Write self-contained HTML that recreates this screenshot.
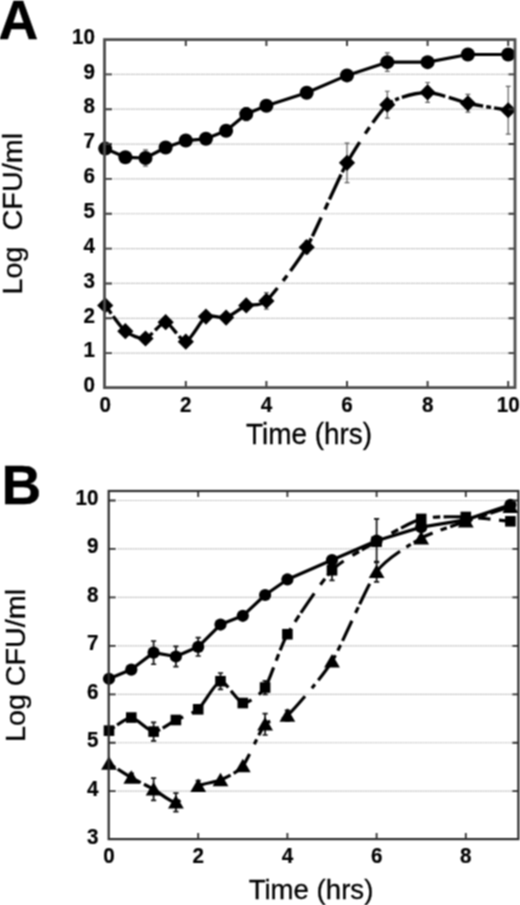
<!DOCTYPE html>
<html><head><meta charset="utf-8"><title>Figure</title>
<style>html,body{margin:0;padding:0;background:#fff}body{width:520px;height:905px;overflow:hidden}</style></head>
<body>
<svg width="520" height="905" viewBox="0 0 520 905" style="display:block">
<rect width="520" height="905" fill="#fff"/>
<g id="fig" filter="url(#bl)">
<line x1="113.50" y1="353.15" x2="514.00" y2="353.15" stroke="#b4b4b4" stroke-width="1.2" stroke-dasharray="1.6 0.9"/>
<line x1="113.50" y1="318.30" x2="514.00" y2="318.30" stroke="#b4b4b4" stroke-width="1.2" stroke-dasharray="1.6 0.9"/>
<line x1="113.50" y1="283.45" x2="514.00" y2="283.45" stroke="#b4b4b4" stroke-width="1.2" stroke-dasharray="1.6 0.9"/>
<line x1="113.50" y1="248.60" x2="514.00" y2="248.60" stroke="#b4b4b4" stroke-width="1.2" stroke-dasharray="1.6 0.9"/>
<line x1="113.50" y1="213.75" x2="514.00" y2="213.75" stroke="#b4b4b4" stroke-width="1.2" stroke-dasharray="1.6 0.9"/>
<line x1="113.50" y1="178.90" x2="514.00" y2="178.90" stroke="#b4b4b4" stroke-width="1.2" stroke-dasharray="1.6 0.9"/>
<line x1="113.50" y1="144.05" x2="514.00" y2="144.05" stroke="#b4b4b4" stroke-width="1.2" stroke-dasharray="1.6 0.9"/>
<line x1="113.50" y1="109.20" x2="514.00" y2="109.20" stroke="#b4b4b4" stroke-width="1.2" stroke-dasharray="1.6 0.9"/>
<line x1="113.50" y1="74.35" x2="514.00" y2="74.35" stroke="#b4b4b4" stroke-width="1.2" stroke-dasharray="1.6 0.9"/>
<path d="M105.20 148.58 L125.35 157.29 L145.50 157.99 L165.65 147.53 L185.80 140.56 L205.95 138.82 L226.10 130.81 L246.25 114.08 L266.40 105.71 L306.70 92.82 L347.00 75.40 L387.30 62.15 L427.60 62.15 L467.90 54.49 L508.20 54.49" fill="none" stroke="#000" stroke-width="3.20" stroke-linejoin="round"/>
<g fill="none" stroke="#000" stroke-width="3.40">
<path d="M105.20 305.41 C107.44 308.27 120.87 327.52 125.35 331.19" stroke-dasharray="10.50 3.00 24.26 0.00"/>
<path d="M125.35 331.19 C129.83 334.87 141.02 339.52 145.50 338.51"/>
<path d="M145.50 338.51 C149.98 337.51 161.17 321.79 165.65 322.13" stroke-dasharray="9.25 3.50 18.56 0.00"/>
<path d="M165.65 322.13 C170.13 322.48 181.32 342.27 185.80 341.65" stroke-dasharray="15.80 3.50 14.25 0.00"/>
<path d="M185.80 341.65 C190.28 341.03 201.47 319.23 205.95 316.56"/>
<path d="M205.95 316.56 C210.43 313.89 221.62 318.84 226.10 317.60"/>
<path d="M226.10 317.60 C230.58 316.36 241.77 307.26 246.25 305.41"/>
<path d="M246.25 305.41 C250.73 303.55 259.68 307.34 266.40 300.88"/>
<path d="M266.40 300.88 C273.12 294.41 297.74 262.54 306.70 247.21" stroke-dasharray="17.10 9.00 6.65 5.50 33.95 0.00"/>
<path d="M306.70 247.21 C315.66 231.87 338.04 178.71 347.00 162.87" stroke-dasharray="10.15 2.50 20.35 9.00 7.25 3.50 27.49 2.50 15.75 0.00"/>
<path d="M347.00 162.87 C355.96 147.03 378.34 112.49 387.30 104.67" stroke-dasharray="24.50 10.00 7.65 5.50 28.29 0.00"/>
<path d="M387.30 104.67 C396.26 96.85 418.64 92.63 427.60 92.47" stroke-dasharray="6.75 2.50 4.25 3.00 31.17 0.00"/>
<path d="M427.60 92.47 C436.56 92.32 458.94 101.30 467.90 103.28" stroke-dasharray="18.25 3.50 25.07 0.00"/>
<path d="M467.90 103.28 C476.86 105.25 503.72 109.47 508.20 110.25" stroke-dasharray="15.70 3.00 4.80 3.00 19.40 0.00"/>
</g>
<path d="M145.50 149.78 V166.20 M143.10 149.78 H147.90 M143.10 166.20 H147.90" stroke="#5a5a5a" stroke-width="1.20" fill="none"/>
<path d="M246.25 107.61 V120.55 M243.85 107.61 H248.65 M243.85 120.55 H248.65" stroke="#5a5a5a" stroke-width="1.20" fill="none"/>
<path d="M387.30 52.89 V71.41 M384.90 52.89 H389.70 M384.90 71.41 H389.70" stroke="#5a5a5a" stroke-width="1.20" fill="none"/>
<path d="M467.90 48.71 V60.26 M465.50 48.71 H470.30 M465.50 60.26 H470.30" stroke="#5a5a5a" stroke-width="1.20" fill="none"/>
<path d="M266.40 292.66 V309.09 M264.00 292.66 H268.80 M264.00 309.09 H268.80" stroke="#5a5a5a" stroke-width="1.20" fill="none"/>
<path d="M306.70 240.74 V253.68 M304.30 240.74 H309.10 M304.30 253.68 H309.10" stroke="#5a5a5a" stroke-width="1.20" fill="none"/>
<path d="M347.00 143.16 V182.58 M344.60 143.16 H349.40 M344.60 182.58 H349.40" stroke="#5a5a5a" stroke-width="1.20" fill="none"/>
<path d="M387.30 91.23 V118.11 M384.90 91.23 H389.70 M384.90 118.11 H389.70" stroke="#5a5a5a" stroke-width="1.20" fill="none"/>
<path d="M427.60 82.52 V102.43 M425.20 82.52 H430.00 M425.20 102.43 H430.00" stroke="#5a5a5a" stroke-width="1.20" fill="none"/>
<path d="M467.90 94.37 V112.19 M465.50 94.37 H470.30 M465.50 112.19 H470.30" stroke="#5a5a5a" stroke-width="1.20" fill="none"/>
<path d="M508.20 86.35 V134.14 M505.80 86.35 H510.60 M505.80 134.14 H510.60" stroke="#5a5a5a" stroke-width="1.20" fill="none"/>
<g fill="#000">
<circle cx="105.20" cy="148.58" r="7.00"/>
<circle cx="125.35" cy="157.29" r="7.00"/>
<circle cx="145.50" cy="157.99" r="7.00"/>
<circle cx="165.65" cy="147.53" r="7.00"/>
<circle cx="185.80" cy="140.56" r="7.00"/>
<circle cx="205.95" cy="138.82" r="7.00"/>
<circle cx="226.10" cy="130.81" r="7.00"/>
<circle cx="246.25" cy="114.08" r="7.00"/>
<circle cx="266.40" cy="105.71" r="7.00"/>
<circle cx="306.70" cy="92.82" r="7.00"/>
<circle cx="347.00" cy="75.40" r="7.00"/>
<circle cx="387.30" cy="62.15" r="7.00"/>
<circle cx="427.60" cy="62.15" r="7.00"/>
<circle cx="467.90" cy="54.49" r="7.00"/>
<circle cx="508.20" cy="54.49" r="7.00"/>
</g>
<g fill="#000">
<path d="M105.20 297.31 L113.30 305.41 L105.20 313.51 L97.10 305.41 Z"/>
<path d="M125.35 323.09 L133.45 331.19 L125.35 339.29 L117.25 331.19 Z"/>
<path d="M145.50 330.41 L153.60 338.51 L145.50 346.61 L137.40 338.51 Z"/>
<path d="M165.65 314.03 L173.75 322.13 L165.65 330.23 L157.55 322.13 Z"/>
<path d="M185.80 333.55 L193.90 341.65 L185.80 349.75 L177.70 341.65 Z"/>
<path d="M205.95 308.46 L214.05 316.56 L205.95 324.66 L197.85 316.56 Z"/>
<path d="M226.10 309.50 L234.20 317.60 L226.10 325.70 L218.00 317.60 Z"/>
<path d="M246.25 297.31 L254.35 305.41 L246.25 313.51 L238.15 305.41 Z"/>
<path d="M266.40 292.77 L274.50 300.88 L266.40 308.98 L258.30 300.88 Z"/>
<path d="M306.70 239.11 L314.80 247.21 L306.70 255.31 L298.60 247.21 Z"/>
<path d="M347.00 154.77 L355.10 162.87 L347.00 170.97 L338.90 162.87 Z"/>
<path d="M387.30 96.57 L395.40 104.67 L387.30 112.77 L379.20 104.67 Z"/>
<path d="M427.60 84.37 L435.70 92.47 L427.60 100.57 L419.50 92.47 Z"/>
<path d="M467.90 95.18 L476.00 103.28 L467.90 111.38 L459.80 103.28 Z"/>
<path d="M508.20 102.15 L516.30 110.25 L508.20 118.35 L500.10 110.25 Z"/>
</g>
<path d="M104.50 353.15 h7.50 M515.00 353.15 h-6.50 M104.50 318.30 h7.50 M515.00 318.30 h-6.50 M104.50 283.45 h7.50 M515.00 283.45 h-6.50 M104.50 248.60 h7.50 M515.00 248.60 h-6.50 M104.50 213.75 h7.50 M515.00 213.75 h-6.50 M104.50 178.90 h7.50 M515.00 178.90 h-6.50 M104.50 144.05 h7.50 M515.00 144.05 h-6.50 M104.50 109.20 h7.50 M515.00 109.20 h-6.50 M104.50 74.35 h7.50 M515.00 74.35 h-6.50 M185.80 387.60 v-6.50 M185.80 39.60 v6.50 M266.40 387.60 v-6.50 M266.40 39.60 v6.50 M347.00 387.60 v-6.50 M347.00 39.60 v6.50 M427.60 387.60 v-6.50 M427.60 39.60 v6.50 M508.20 387.60 v-6.50 M508.20 39.60 v6.50" stroke="#333" stroke-width="1.90" fill="none"/>
<rect x="104.50" y="39.60" width="410.50" height="348.00" fill="none" stroke="#4c4c4c" stroke-width="2.80"/>
<text transform="translate(94.90 392.20) scale(0.2060 0.2200)" text-anchor="end" font-size="100" font-weight="bold" font-family="Liberation Sans, Arial, sans-serif" stroke="#000" stroke-width="0.97">0</text>
<text transform="translate(94.90 357.35) scale(0.2060 0.2200)" text-anchor="end" font-size="100" font-weight="bold" font-family="Liberation Sans, Arial, sans-serif" stroke="#000" stroke-width="0.97">1</text>
<text transform="translate(94.90 322.50) scale(0.2060 0.2200)" text-anchor="end" font-size="100" font-weight="bold" font-family="Liberation Sans, Arial, sans-serif" stroke="#000" stroke-width="0.97">2</text>
<text transform="translate(94.90 287.65) scale(0.2060 0.2200)" text-anchor="end" font-size="100" font-weight="bold" font-family="Liberation Sans, Arial, sans-serif" stroke="#000" stroke-width="0.97">3</text>
<text transform="translate(94.90 252.80) scale(0.2060 0.2200)" text-anchor="end" font-size="100" font-weight="bold" font-family="Liberation Sans, Arial, sans-serif" stroke="#000" stroke-width="0.97">4</text>
<text transform="translate(94.90 217.95) scale(0.2060 0.2200)" text-anchor="end" font-size="100" font-weight="bold" font-family="Liberation Sans, Arial, sans-serif" stroke="#000" stroke-width="0.97">5</text>
<text transform="translate(94.90 183.10) scale(0.2060 0.2200)" text-anchor="end" font-size="100" font-weight="bold" font-family="Liberation Sans, Arial, sans-serif" stroke="#000" stroke-width="0.97">6</text>
<text transform="translate(94.90 148.25) scale(0.2060 0.2200)" text-anchor="end" font-size="100" font-weight="bold" font-family="Liberation Sans, Arial, sans-serif" stroke="#000" stroke-width="0.97">7</text>
<text transform="translate(94.90 113.40) scale(0.2060 0.2200)" text-anchor="end" font-size="100" font-weight="bold" font-family="Liberation Sans, Arial, sans-serif" stroke="#000" stroke-width="0.97">8</text>
<text transform="translate(94.90 78.55) scale(0.2060 0.2200)" text-anchor="end" font-size="100" font-weight="bold" font-family="Liberation Sans, Arial, sans-serif" stroke="#000" stroke-width="0.97">9</text>
<text transform="translate(94.90 43.70) scale(0.2060 0.2200)" text-anchor="end" font-size="100" font-weight="bold" font-family="Liberation Sans, Arial, sans-serif" stroke="#000" stroke-width="0.97">10</text>
<text transform="translate(105.20 412.10) scale(0.2060 0.2200)" text-anchor="middle" font-size="100" font-weight="bold" font-family="Liberation Sans, Arial, sans-serif" stroke="#000" stroke-width="0.97">0</text>
<text transform="translate(185.80 412.10) scale(0.2060 0.2200)" text-anchor="middle" font-size="100" font-weight="bold" font-family="Liberation Sans, Arial, sans-serif" stroke="#000" stroke-width="0.97">2</text>
<text transform="translate(266.40 412.10) scale(0.2060 0.2200)" text-anchor="middle" font-size="100" font-weight="bold" font-family="Liberation Sans, Arial, sans-serif" stroke="#000" stroke-width="0.97">4</text>
<text transform="translate(347.00 412.10) scale(0.2060 0.2200)" text-anchor="middle" font-size="100" font-weight="bold" font-family="Liberation Sans, Arial, sans-serif" stroke="#000" stroke-width="0.97">6</text>
<text transform="translate(427.60 412.10) scale(0.2060 0.2200)" text-anchor="middle" font-size="100" font-weight="bold" font-family="Liberation Sans, Arial, sans-serif" stroke="#000" stroke-width="0.97">8</text>
<text transform="translate(508.20 412.10) scale(0.2060 0.2200)" text-anchor="middle" font-size="100" font-weight="bold" font-family="Liberation Sans, Arial, sans-serif" stroke="#000" stroke-width="0.97">10</text>
<line x1="117.70" y1="791.20" x2="517.40" y2="791.20" stroke="#b4b4b4" stroke-width="1.2" stroke-dasharray="1.6 0.9"/>
<line x1="117.70" y1="742.75" x2="517.40" y2="742.75" stroke="#b4b4b4" stroke-width="1.2" stroke-dasharray="1.6 0.9"/>
<line x1="117.70" y1="694.30" x2="517.40" y2="694.30" stroke="#b4b4b4" stroke-width="1.2" stroke-dasharray="1.6 0.9"/>
<line x1="117.70" y1="645.85" x2="517.40" y2="645.85" stroke="#b4b4b4" stroke-width="1.2" stroke-dasharray="1.6 0.9"/>
<line x1="117.70" y1="597.40" x2="517.40" y2="597.40" stroke="#b4b4b4" stroke-width="1.2" stroke-dasharray="1.6 0.9"/>
<line x1="117.70" y1="548.95" x2="517.40" y2="548.95" stroke="#b4b4b4" stroke-width="1.2" stroke-dasharray="1.6 0.9"/>
<line x1="117.70" y1="500.50" x2="517.40" y2="500.50" stroke="#b4b4b4" stroke-width="1.2" stroke-dasharray="1.6 0.9"/>
<path d="M109.00 678.80 L131.30 669.59 L153.60 652.63 L175.90 656.51 L198.20 646.82 L220.50 624.53 L242.80 615.81 L265.10 594.98 L287.40 579.47 L332.00 560.09 L376.60 540.71 L421.20 527.15 L465.80 519.88 L510.40 504.86" fill="none" stroke="#000" stroke-width="3.20" stroke-linejoin="round"/>
<g fill="none" stroke="#000" stroke-width="3.20">
<path d="M109.00 730.64 C111.48 729.18 126.34 717.45 131.30 717.56" stroke-dasharray="7.00 3.00 21.05 0.00"/>
<path d="M131.30 717.56 C136.26 717.66 148.64 731.34 153.60 731.61"/>
<path d="M153.60 731.61 C158.56 731.88 170.94 722.45 175.90 719.98" stroke-dasharray="7.00 3.00 20.34 0.00"/>
<path d="M175.90 719.98 C180.86 717.50 193.24 713.63 198.20 709.32" stroke-dasharray="8.00 9.00 12.80 0.00"/>
<path d="M198.20 709.32 C203.16 705.01 215.54 681.92 220.50 681.22"/>
<path d="M220.50 681.22 C225.46 680.52 237.84 702.32 242.80 703.02" stroke-dasharray="10.50 4.00 22.22 0.00"/>
<path d="M242.80 703.02 C247.76 703.72 260.14 695.16 265.10 687.52" stroke-dasharray="9.50 9.00 14.44 0.00"/>
<path d="M265.10 687.52 C270.06 679.87 279.97 647.25 287.40 634.22" stroke-dasharray="22.00 7.00 7.00 4.00 22.83 0.00"/>
<path d="M287.40 634.22 C294.83 621.19 322.09 580.55 332.00 570.27" stroke-dasharray="6.95 7.70 7.65 3.00 23.60 10.40 7.45 4.50 11.80 0.00"/>
<path d="M332.00 570.27 C341.91 559.99 366.69 547.39 376.60 541.68" stroke-dasharray="15.00 10.40 7.40 3.20 22.12 0.00"/>
<path d="M376.60 541.68 C386.51 535.98 411.29 521.66 421.20 518.91" stroke-dasharray="6.90 10.40 7.40 3.20 27.25 0.00"/>
<path d="M421.20 518.91 C431.11 516.17 455.89 516.70 465.80 516.97" stroke-dasharray="1.50 10.40 7.40 3.20 27.25 0.00"/>
<path d="M465.80 516.97 C475.71 517.24 505.44 520.85 510.40 521.33" stroke-dasharray="5.50 7.00 12.25 8.50 16.57 0.00"/>
</g>
<g fill="none" stroke="#000" stroke-width="3.20">
<path d="M109.00 763.58 C111.48 765.14 126.34 774.78 131.30 777.63" stroke-dasharray="7.50 3.00 20.86 0.00"/>
<path d="M131.30 777.63 C136.26 780.49 148.64 786.52 153.60 789.26" stroke-dasharray="10.75 3.50 15.90 0.00"/>
<path d="M153.60 789.26 C158.56 792.01 170.94 802.72 175.90 802.34"/>
<path d="M175.90 802.34 C180.86 801.97 193.24 788.35 198.20 785.87" stroke-dasharray="5.00 18.00 9.92 0.00"/>
<path d="M198.20 785.87 C203.16 783.39 215.54 782.26 220.50 780.06"/>
<path d="M220.50 780.06 C225.46 777.85 237.84 772.20 242.80 766.01" stroke-dasharray="11.25 3.50 16.81 0.00"/>
<path d="M242.80 766.01 C247.76 759.82 260.14 729.94 265.10 724.34" stroke-dasharray="14.10 10.60 5.35 4.50 17.77 0.00"/>
<path d="M265.10 724.34 C270.06 718.74 279.97 722.62 287.40 715.62" stroke-dasharray="6.00 12.00 11.43 0.00"/>
<path d="M287.40 715.62 C294.83 708.62 322.09 677.34 332.00 661.35" stroke-dasharray="26.25 10.50 4.80 5.30 28.49 0.00"/>
<path d="M332.00 661.35 C341.91 645.37 366.69 585.40 376.60 571.72" stroke-dasharray="7.00 5.50 6.20 4.40 22.15 8.50 6.50 3.10 22.65 8.00 11.18 0.00"/>
<path d="M376.60 571.72 C386.51 558.05 411.29 543.89 421.20 538.29" stroke-dasharray="31.20 7.40 5.35 3.30 13.84 0.00"/>
<path d="M421.20 538.29 C431.11 532.69 455.89 524.83 465.80 521.33" stroke-dasharray="12.65 8.50 6.35 3.60 21.66 0.00"/>
<path d="M465.80 521.33 C475.71 517.83 505.44 508.41 510.40 506.80" stroke-dasharray="7.35 8.50 6.45 3.60 26.01 0.00"/>
</g>
<path d="M153.60 641.02 V664.25 M151.00 641.02 H156.20 M151.00 664.25 H156.20" stroke="#111" stroke-width="1.70" fill="none"/>
<path d="M175.90 646.35 V666.67 M173.30 646.35 H178.50 M173.30 666.67 H178.50" stroke="#111" stroke-width="1.70" fill="none"/>
<path d="M198.20 637.63 V656.01 M195.60 637.63 H200.80 M195.60 656.01 H200.80" stroke="#111" stroke-width="1.70" fill="none"/>
<path d="M376.60 518.93 V562.50 M374.00 518.93 H379.20 M374.00 562.50 H379.20" stroke="#111" stroke-width="1.70" fill="none"/>
<path d="M153.60 722.42 V740.80 M151.00 722.42 H156.20 M151.00 740.80 H156.20" stroke="#111" stroke-width="1.70" fill="none"/>
<path d="M220.50 673.00 V689.44 M217.90 673.00 H223.10 M217.90 689.44 H223.10" stroke="#111" stroke-width="1.70" fill="none"/>
<path d="M265.10 680.75 V694.28 M262.50 680.75 H267.70 M262.50 694.28 H267.70" stroke="#111" stroke-width="1.70" fill="none"/>
<path d="M332.00 560.11 V580.43 M329.40 560.11 H334.60 M329.40 580.43 H334.60" stroke="#111" stroke-width="1.70" fill="none"/>
<path d="M131.30 773.29 V781.98 M128.70 773.29 H133.90 M128.70 781.98 H133.90" stroke="#111" stroke-width="1.70" fill="none"/>
<path d="M153.60 778.13 V800.39 M151.00 778.13 H156.20 M151.00 800.39 H156.20" stroke="#111" stroke-width="1.70" fill="none"/>
<path d="M175.90 793.15 V811.53 M173.30 793.15 H178.50 M173.30 811.53 H178.50" stroke="#111" stroke-width="1.70" fill="none"/>
<path d="M198.20 780.56 V791.18 M195.60 780.56 H200.80 M195.60 791.18 H200.80" stroke="#111" stroke-width="1.70" fill="none"/>
<path d="M265.10 713.70 V734.98 M262.50 713.70 H267.70 M262.50 734.98 H267.70" stroke="#111" stroke-width="1.70" fill="none"/>
<path d="M287.40 710.30 V720.93 M284.80 710.30 H290.00 M284.80 720.93 H290.00" stroke="#111" stroke-width="1.70" fill="none"/>
<path d="M376.60 561.56 V581.88 M374.00 561.56 H379.20 M374.00 581.88 H379.20" stroke="#111" stroke-width="1.70" fill="none"/>
<g fill="#000">
<circle cx="109.00" cy="678.80" r="6.10"/>
<circle cx="131.30" cy="669.59" r="6.10"/>
<circle cx="153.60" cy="652.63" r="6.10"/>
<circle cx="175.90" cy="656.51" r="6.10"/>
<circle cx="198.20" cy="646.82" r="6.10"/>
<circle cx="220.50" cy="624.53" r="6.10"/>
<circle cx="242.80" cy="615.81" r="6.10"/>
<circle cx="265.10" cy="594.98" r="6.10"/>
<circle cx="287.40" cy="579.47" r="6.10"/>
<circle cx="332.00" cy="560.09" r="6.10"/>
<circle cx="376.60" cy="540.71" r="6.10"/>
<circle cx="421.20" cy="527.15" r="6.10"/>
<circle cx="465.80" cy="519.88" r="6.10"/>
<circle cx="510.40" cy="504.86" r="6.10"/>
</g>
<g fill="#000">
<rect x="103.70" y="725.34" width="10.60" height="10.60"/>
<rect x="126.00" y="712.26" width="10.60" height="10.60"/>
<rect x="148.30" y="726.31" width="10.60" height="10.60"/>
<rect x="170.60" y="714.68" width="10.60" height="10.60"/>
<rect x="192.90" y="704.02" width="10.60" height="10.60"/>
<rect x="215.20" y="675.92" width="10.60" height="10.60"/>
<rect x="237.50" y="697.72" width="10.60" height="10.60"/>
<rect x="259.80" y="682.22" width="10.60" height="10.60"/>
<rect x="282.10" y="628.92" width="10.60" height="10.60"/>
<rect x="326.70" y="564.97" width="10.60" height="10.60"/>
<rect x="371.30" y="536.38" width="10.60" height="10.60"/>
<rect x="415.90" y="513.61" width="10.60" height="10.60"/>
<rect x="460.50" y="511.67" width="10.60" height="10.60"/>
<rect x="505.10" y="516.03" width="10.60" height="10.60"/>
</g>
<g fill="#000">
<path d="M109.00 756.28 L116.88 769.79 L101.12 769.79 Z"/>
<path d="M131.30 770.33 L139.18 783.84 L123.42 783.84 Z"/>
<path d="M153.60 781.96 L161.48 795.47 L145.72 795.47 Z"/>
<path d="M175.90 795.04 L183.78 808.55 L168.02 808.55 Z"/>
<path d="M198.20 778.57 L206.08 792.08 L190.32 792.08 Z"/>
<path d="M220.50 772.76 L228.38 786.26 L212.62 786.26 Z"/>
<path d="M242.80 758.71 L250.68 772.21 L234.92 772.21 Z"/>
<path d="M265.10 717.04 L272.98 730.54 L257.22 730.54 Z"/>
<path d="M287.40 708.32 L295.28 721.82 L279.52 721.82 Z"/>
<path d="M332.00 654.05 L339.88 667.56 L324.12 667.56 Z"/>
<path d="M376.60 564.42 L384.48 577.93 L368.72 577.93 Z"/>
<path d="M421.20 530.99 L429.08 544.50 L413.32 544.50 Z"/>
<path d="M465.80 514.03 L473.68 527.54 L457.92 527.54 Z"/>
<path d="M510.40 499.50 L518.28 513.00 L502.52 513.00 Z"/>
</g>
<path d="M108.70 791.20 h7.00 M518.40 791.20 h-6.00 M108.70 742.75 h7.00 M518.40 742.75 h-6.00 M108.70 694.30 h7.00 M518.40 694.30 h-6.00 M108.70 645.85 h7.00 M518.40 645.85 h-6.00 M108.70 597.40 h7.00 M518.40 597.40 h-6.00 M108.70 548.95 h7.00 M518.40 548.95 h-6.00 M108.70 500.50 h7.00 M518.40 500.50 h-6.00 M198.20 839.10 v-6.00 M198.20 491.00 v6.00 M287.40 839.10 v-6.00 M287.40 491.00 v6.00 M376.60 839.10 v-6.00 M376.60 491.00 v6.00 M465.80 839.10 v-6.00 M465.80 491.00 v6.00" stroke="#2c2c2c" stroke-width="1.80" fill="none"/>
<rect x="108.70" y="491.00" width="409.70" height="348.10" fill="none" stroke="#2c2c2c" stroke-width="2.20"/>
<text transform="translate(98.40 844.15) scale(0.2060 0.2200)" text-anchor="end" font-size="100" font-weight="bold" font-family="Liberation Sans, Arial, sans-serif" stroke="#000" stroke-width="0.97">3</text>
<text transform="translate(98.40 795.70) scale(0.2060 0.2200)" text-anchor="end" font-size="100" font-weight="bold" font-family="Liberation Sans, Arial, sans-serif" stroke="#000" stroke-width="0.97">4</text>
<text transform="translate(98.40 747.25) scale(0.2060 0.2200)" text-anchor="end" font-size="100" font-weight="bold" font-family="Liberation Sans, Arial, sans-serif" stroke="#000" stroke-width="0.97">5</text>
<text transform="translate(98.40 698.80) scale(0.2060 0.2200)" text-anchor="end" font-size="100" font-weight="bold" font-family="Liberation Sans, Arial, sans-serif" stroke="#000" stroke-width="0.97">6</text>
<text transform="translate(98.40 650.35) scale(0.2060 0.2200)" text-anchor="end" font-size="100" font-weight="bold" font-family="Liberation Sans, Arial, sans-serif" stroke="#000" stroke-width="0.97">7</text>
<text transform="translate(98.40 601.90) scale(0.2060 0.2200)" text-anchor="end" font-size="100" font-weight="bold" font-family="Liberation Sans, Arial, sans-serif" stroke="#000" stroke-width="0.97">8</text>
<text transform="translate(98.40 553.45) scale(0.2060 0.2200)" text-anchor="end" font-size="100" font-weight="bold" font-family="Liberation Sans, Arial, sans-serif" stroke="#000" stroke-width="0.97">9</text>
<text transform="translate(98.40 505.00) scale(0.2060 0.2200)" text-anchor="end" font-size="100" font-weight="bold" font-family="Liberation Sans, Arial, sans-serif" stroke="#000" stroke-width="0.97">10</text>
<text transform="translate(109.00 863.40) scale(0.2060 0.2200)" text-anchor="middle" font-size="100" font-weight="bold" font-family="Liberation Sans, Arial, sans-serif" stroke="#000" stroke-width="0.97">0</text>
<text transform="translate(198.20 863.40) scale(0.2060 0.2200)" text-anchor="middle" font-size="100" font-weight="bold" font-family="Liberation Sans, Arial, sans-serif" stroke="#000" stroke-width="0.97">2</text>
<text transform="translate(287.40 863.40) scale(0.2060 0.2200)" text-anchor="middle" font-size="100" font-weight="bold" font-family="Liberation Sans, Arial, sans-serif" stroke="#000" stroke-width="0.97">4</text>
<text transform="translate(376.60 863.40) scale(0.2060 0.2200)" text-anchor="middle" font-size="100" font-weight="bold" font-family="Liberation Sans, Arial, sans-serif" stroke="#000" stroke-width="0.97">6</text>
<text transform="translate(465.80 863.40) scale(0.2060 0.2200)" text-anchor="middle" font-size="100" font-weight="bold" font-family="Liberation Sans, Arial, sans-serif" stroke="#000" stroke-width="0.97">8</text>
<text transform="translate(-1.60 38.80) scale(0.5500 0.5560)" text-anchor="start" font-size="100" font-weight="bold" font-family="Liberation Sans, Arial, sans-serif" stroke="#000" stroke-width="0.91">A</text>
<text transform="translate(1.50 503.60) scale(0.5500 0.5500)" text-anchor="start" font-size="100" font-weight="bold" font-family="Liberation Sans, Arial, sans-serif" stroke="#000" stroke-width="0.73">B</text>
<text transform="translate(22.10 294.50) rotate(-90) scale(0.2880 0.2850)" text-anchor="start" font-size="100" font-family="Liberation Sans, Arial, sans-serif" xml:space="preserve" stroke="#000" stroke-width="1.04">Log  CFU/ml</text>
<text transform="translate(25.10 742.00) rotate(-90) scale(0.2870 0.2760)" text-anchor="start" font-size="100" font-family="Liberation Sans, Arial, sans-serif" stroke="#000" stroke-width="1.05">Log CFU/ml</text>
<text transform="translate(309.00 443.50) scale(0.2790 0.2900)" text-anchor="middle" font-size="100" font-family="Liberation Sans, Arial, sans-serif" stroke="#000" stroke-width="1.08">Time (hrs)</text>
<text transform="translate(311.00 898.50) scale(0.2760 0.2700)" text-anchor="middle" font-size="100" font-family="Liberation Sans, Arial, sans-serif" stroke="#000" stroke-width="1.09">Time (hrs)</text>
</g>
<defs><filter id="bl" x="-2%" y="-2%" width="104%" height="104%" color-interpolation-filters="sRGB"><feConvolveMatrix order="3" kernelMatrix="0.06760 0.12480 0.06760 0.12480 0.23040 0.12480 0.06760 0.12480 0.06760" divisor="1" edgeMode="none" preserveAlpha="false"/></filter></defs>
</svg>
</body></html>
